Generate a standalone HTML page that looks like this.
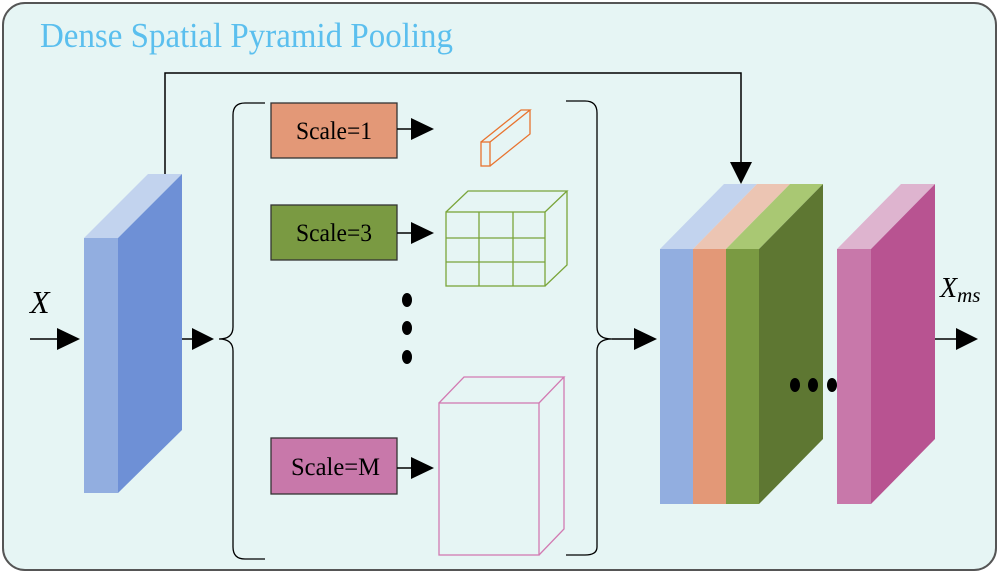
<!DOCTYPE html>
<html><head><meta charset="utf-8"><style>html,body{margin:0;padding:0;background:#fff}svg{display:block}text{font-family:"Liberation Serif",serif}</style></head>
<body>
<svg width="1000" height="574" viewBox="0 0 1000 574" xmlns="http://www.w3.org/2000/svg">
<rect x="3" y="3" width="993" height="567" rx="22" fill="#e6f5f4" stroke="#555" stroke-width="2"/>
<text x="40" y="47" font-size="35" fill="#5bbfee" textLength="413" lengthAdjust="spacingAndGlyphs">Dense Spatial Pyramid Pooling</text>

<polygon points="84,238 118,238 182,174 148,174" fill="#c2d3ee"/>
<rect x="84" y="238" width="34" height="255" fill="#92aee0"/>
<polygon points="118,238 182,174 182,430 118,493" fill="#6e90d6"/>

<text x="30" y="313" font-style="italic" font-size="32">X</text>
<line x1="30" y1="339" x2="58" y2="339" stroke="#000" stroke-width="1.5"/>
<polygon points="57,328 80,339 57,350" fill="#000"/>
<line x1="182" y1="339" x2="193" y2="339" stroke="#000" stroke-width="1.5"/>
<polygon points="192,328 214,339 192,350" fill="#000"/>

<polyline points="165,174 165,73 741,73 741,165" fill="none" stroke="#000" stroke-width="1.5"/>
<polygon points="730,162 752,162 741,184" fill="#000"/>

<path d="M265,103 L245,103 Q233,103 233,115 L233,327 Q233,339 219,339 Q233,339 233,351 L233,547 Q233,559 245,559 L265,559" fill="none" stroke="#000" stroke-width="1.3"/>
<path d="M566,101 L585,101 Q597,101 597,113 L597,327 Q597,339 612,339 Q597,339 597,351 L597,547 Q597,555 585,555 L566,555" fill="none" stroke="#000" stroke-width="1.3"/>
<line x1="612" y1="339" x2="635" y2="339" stroke="#000" stroke-width="1.5"/>
<polygon points="634,328 657,339 634,350" fill="#000"/>

<rect x="271" y="103" width="126" height="55" fill="#e39877" stroke="#333" stroke-width="1.3"/>
<text x="296" y="139" font-size="25" textLength="76" lengthAdjust="spacingAndGlyphs">Scale=1</text>
<rect x="271" y="205" width="126" height="55" fill="#7a9a42" stroke="#333" stroke-width="1.3"/>
<text x="296" y="241" font-size="25" textLength="76" lengthAdjust="spacingAndGlyphs">Scale=3</text>
<rect x="271" y="438" width="126" height="56" fill="#c878aa" stroke="#333" stroke-width="1.3"/>
<text x="291" y="475" font-size="25" textLength="89" lengthAdjust="spacingAndGlyphs">Scale=M</text>
<g stroke="#000" stroke-width="1.5">
<line x1="397" y1="129" x2="412" y2="129"/><line x1="397" y1="233" x2="412" y2="233"/><line x1="397" y1="468" x2="412" y2="468"/>
</g>
<polygon points="411,118 434,129 411,140" fill="#000"/>
<polygon points="411,222 434,233 411,244" fill="#000"/>
<polygon points="411,457 434,468 411,479" fill="#000"/>

<g fill="none" stroke="#e8732e" stroke-width="1.3">
<rect x="481" y="142" width="9" height="24"/>
<polyline points="481,142 521,110 530,110 490,142"/>
<polyline points="530,110 530,134 490,166"/>
</g>
<g fill="none" stroke="#7aa53a" stroke-width="1.3">
<rect x="446" y="212" width="99" height="74"/>
<polyline points="446,212 468,191 567,191 545,212"/>
<polyline points="567,191 567,265 545,286"/>
<line x1="479" y1="212" x2="479" y2="286"/><line x1="513" y1="212" x2="513" y2="286"/>
<line x1="446" y1="238" x2="545" y2="238"/><line x1="446" y1="262" x2="545" y2="262"/>
</g>
<g fill="none" stroke="#d27ab2" stroke-width="1.3">
<rect x="439" y="403" width="100" height="152"/>
<polyline points="439,403 464,377 564,377 539,403"/>
<polyline points="564,377 564,529 539,555"/>
</g>
<ellipse cx="407" cy="300" rx="5" ry="7"/>
<ellipse cx="407" cy="328" rx="5" ry="7"/>
<ellipse cx="407" cy="357" rx="5" ry="7"/>

<polygon points="660,249 693,249 757,184 724,184" fill="#c2d3ee"/>
<polygon points="693,249 726,249 790,184 757,184" fill="#ecc5b3"/>
<polygon points="726,249 759,249 823,184 790,184" fill="#a9c873"/>
<rect x="660" y="249" width="33" height="255" fill="#92aee0"/>
<rect x="693" y="249" width="33" height="255" fill="#e39877"/>
<rect x="726" y="249" width="33" height="255" fill="#7a9a42"/>
<polygon points="759,249 823,184 823,439 759,504" fill="#5e7732"/>
<ellipse cx="795" cy="385" rx="5" ry="7"/>
<ellipse cx="813" cy="385" rx="5" ry="7"/>
<ellipse cx="832" cy="385" rx="5" ry="7"/>
<polygon points="837,249 871,249 935,184 901,184" fill="#deb4cf"/>
<rect x="837" y="249" width="34" height="255" fill="#c878aa"/>
<polygon points="871,249 935,184 935,439 871,504" fill="#b85391"/>

<line x1="935" y1="339" x2="957" y2="339" stroke="#000" stroke-width="1.5"/>
<polygon points="956,328 978,339 956,350" fill="#000"/>
<text x="940" y="297" font-style="italic" font-size="28">X<tspan font-size="21" dy="5">ms</tspan></text>
</svg>
</body></html>
